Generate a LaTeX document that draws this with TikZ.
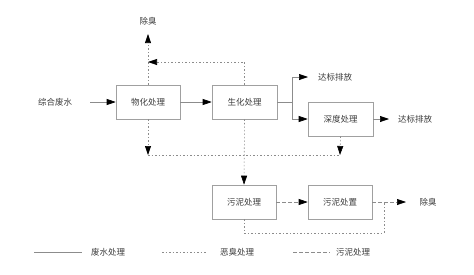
\documentclass[tikz,border=0pt]{standalone}
\usepackage{fontspec}
\newfontfamily\cjk{Noto Sans CJK SC}
\usetikzlibrary{arrows.meta}
\definecolor{txt}{HTML}{3C3C3C}
\definecolor{linegray}{HTML}{8C8C8C}
\definecolor{boxgray}{HTML}{A0A0A0}
\begin{document}
\begin{tikzpicture}[x=1pt,y=-1pt,
  box/.style={draw=boxgray, line width=0.6pt, minimum width=64pt, minimum height=34pt, inner sep=0pt, text=txt, font=\cjk\fontsize{8.5}{9}\selectfont},
  lbl/.style={text=txt, inner sep=1pt, font=\cjk\fontsize{8.5}{9}\selectfont},
  water/.style={draw=linegray, line width=0.6pt},
  odor/.style={draw=linegray, line width=0.6pt, dash pattern=on 1.5pt off 2pt},
  sludge/.style={draw=linegray, line width=0.6pt, dash pattern=on 3.5pt off 2.5pt},
  tip/.style={-{Triangle[length=9pt,width=6pt,color=black]}}]
\useasboundingbox (0,0) rectangle (474,274);
% boxes
\node[box] (wh) at (148,102) {物化处理};
\node[box, minimum width=65pt] (sh) at (244.5,102) {生化处理};
\node[box, minimum width=65pt] (sd) at (340.5,119) {深度处理};
\node[box] (wn) at (244,202) {污泥处理};
\node[box] (wz) at (340,202) {污泥处置};
% labels
\node[lbl] (in) at (55,102) {综合废水};
\node[lbl] (cx1) at (148,21) {除臭};
\node[lbl] (db1) at (335,77) {达标排放};
\node[lbl] (db2) at (415,119) {达标排放};
\node[lbl] (cx2) at (428,202) {除臭};
% coordinates
\coordinate (a0) at (90,102);
\coordinate (br) at (292,102);
\coordinate (t1) at (308,77);
\coordinate (t2) at (389,119);
\coordinate (c1) at (148,34);
\coordinate (j1) at (148,62);
\coordinate (j2) at (148,155);
\coordinate (j3) at (340,155);
\coordinate (t3) at (406,202);
\coordinate (k1) at (384,233);
\coordinate (k2) at (384,202);
% water
\draw[water,tip] (a0) -- (wh.west);
\draw[water,tip] (wh.east) -- (sh.west);
\draw[water] (sh.east) -- (br);
\draw[water,tip] (br) |- (t1);
\draw[water,tip] (br) |- (sd.west);
\draw[water,tip] (sd.east) -- (t2);
% odor
\draw[odor,tip] (wh.north) -- (c1);
\draw[odor,tip] (sh.north) |- (j1);
\draw[odor] (wn.south) |- (k1) -- (k2);
% sludge collection
\draw[odor,tip] (wh.south) -- (j2);
\draw[odor] (j2) -- (j3);
\draw[odor,tip] (sd.south) -- (j3);
\draw[odor,tip] (sh.south) -- (wn.north);
\draw[sludge,tip] (wn.east) -- (wz.west);
\draw[sludge,tip] (wz.east) -- (t3);
% legend
\coordinate (l1a) at (34,252); \coordinate (l1b) at (82,252);
\coordinate (l2a) at (162,252); \coordinate (l2b) at (207,252);
\coordinate (l3a) at (293,252); \coordinate (l3b) at (330,252);
\draw[water] (l1a) -- (l1b);
\draw[odor] (l2a) -- (l2b);
\draw[sludge] (l3a) -- (l3b);
\node[lbl] (lg1) at (108,252) {废水处理};
\node[lbl] (lg2) at (237,252) {恶臭处理};
\node[lbl] (lg3) at (353,252) {污泥处理};
\end{tikzpicture}
\end{document}
